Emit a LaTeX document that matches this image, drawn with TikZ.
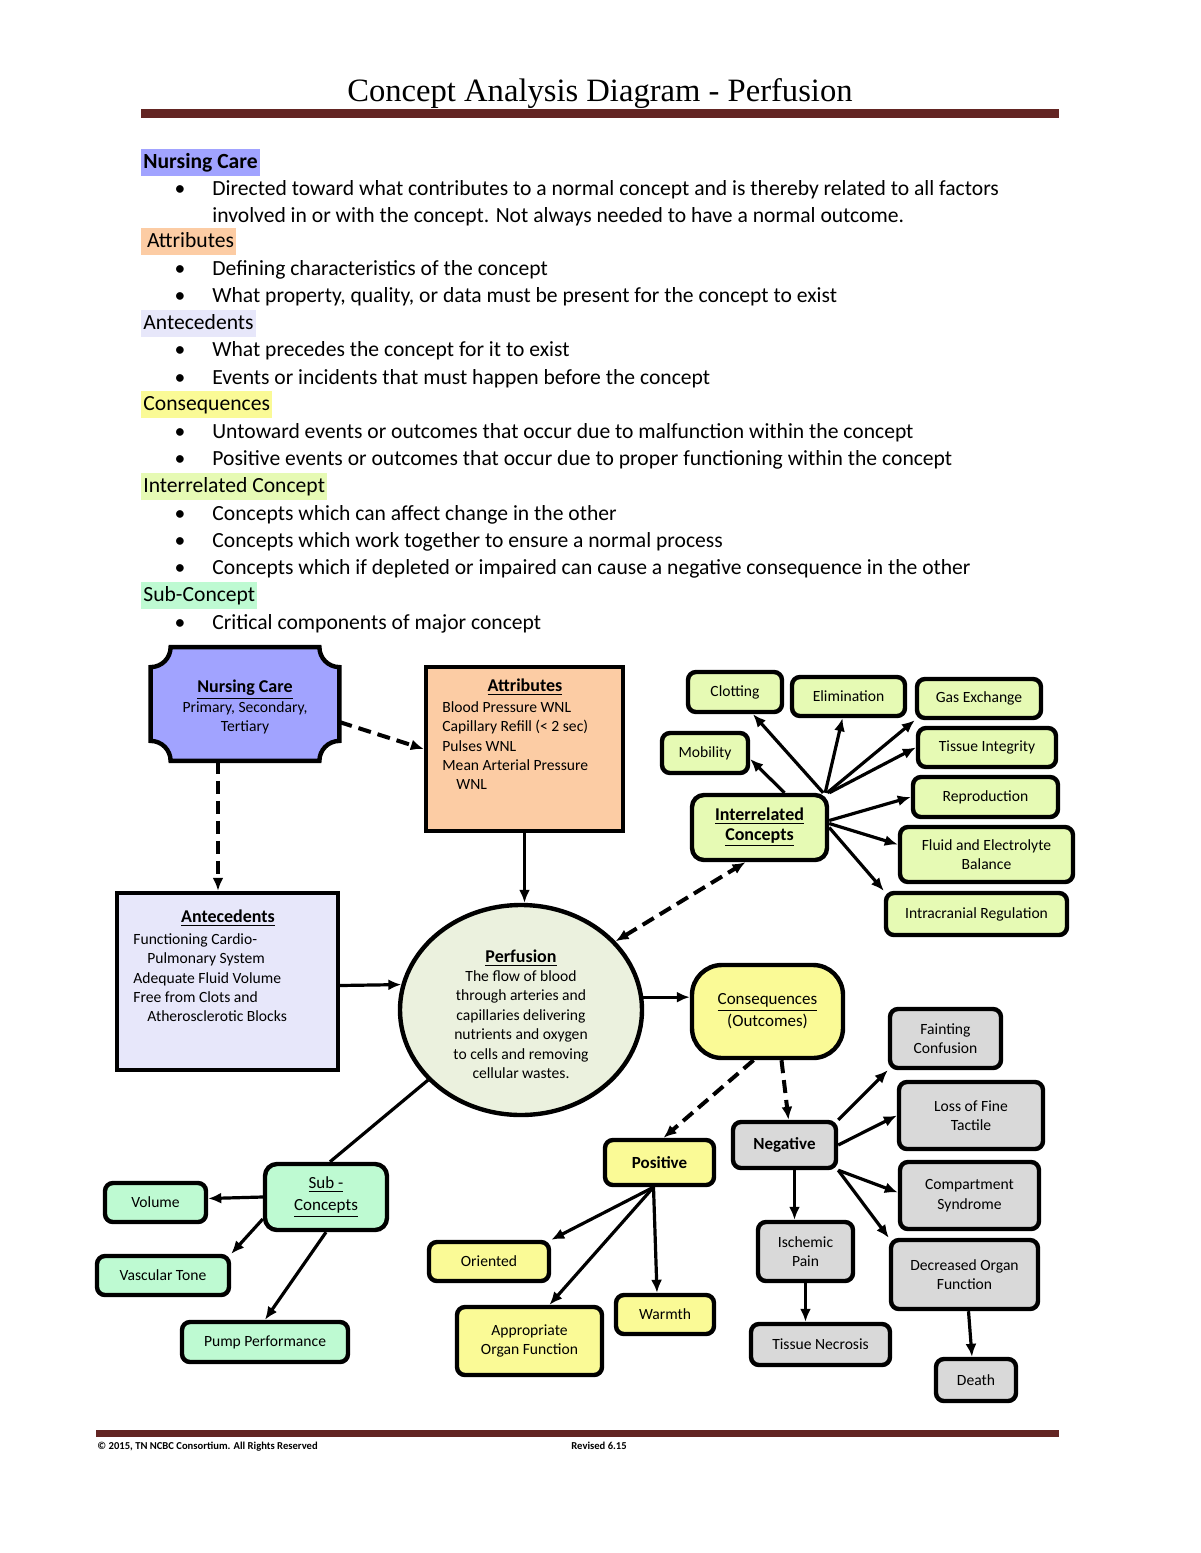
\documentclass[tikz,border=0pt]{standalone}
\usepackage{fontspec}
\setmainfont{Carlito}
\newfontfamily\headfont{Liberation Serif}
\usetikzlibrary{shapes.geometric, arrows.meta, calc}

\definecolor{barred}{RGB}{99,37,35}
\definecolor{nursefill}{RGB}{161,163,255}
\definecolor{attrfill}{RGB}{252,204,164}
\definecolor{antefill}{RGB}{231,231,250}
\definecolor{perffill}{RGB}{235,241,222}
\definecolor{interfill}{RGB}{230,250,180}
\definecolor{consfill}{RGB}{250,250,150}
\definecolor{subfill}{RGB}{190,250,210}
\definecolor{negfill}{RGB}{217,217,217}

\newcommand\bodyfont{\fontsize{10.8}{13}\selectfont}
\newcommand\boxfont{\fontsize{7.8}{9.7}\selectfont}
\newcommand\boxtitle{\fontsize{9}{9.7}\selectfont\bfseries}
\newcommand\midfont{\fontsize{8.5}{11}\selectfont}
\newcommand\footfont{\fontsize{5.3}{6}\selectfont\bfseries}

\tikzset{
  headmark/.style={
    anchor=base west, font=\bodyfont, inner xsep=1pt, inner ysep=1.5pt,
    text height=7.8pt, text depth=2.6pt
  },
  itemline/.style={anchor=base west, font=\bodyfont, inner sep=0pt},
  mapbox/.style={
    draw, line width=2.2pt, align=center, font=\boxfont, inner sep=1pt
  },
  leafbox/.style={mapbox, rounded corners=4pt},
  boxtext/.style={align=center, font=\boxfont, inner sep=0pt},
  listtext/.style={align=left, font=\boxfont, inner sep=0pt},
  maparrow/.style={-{Latex[length=6.5pt,width=5.5pt]}, line width=1.6pt},
  mapdash/.style={maparrow, line width=2pt, dash pattern=on 6.5pt off 3.5pt},
  maplink/.style={line width=1.6pt},
}

\begin{document}
\begin{tikzpicture}[x=0.5pt, y=-0.5pt]
  \path[fill=white] (0,0) rectangle (1200,1553);
  \useasboundingbox (0,0) rectangle (1200,1553);

  % ── Page title ─────────────────────────────────────────────────
  \node[font=\headfont\fontsize{16.3}{18}\selectfont, anchor=base]
    (title) at (600,101) {Concept Analysis Diagram - Perfusion};
  \fill[barred] (141,109) rectangle (1059,118);

  % ── Key to the colours ─────────────────────────────────────────
  \node[headmark, fill=nursefill, font=\bodyfont\bfseries]
    (key-nurse) at (141,168) {Nursing Care};
  \node[headmark, fill=attrfill] (key-attr) at (141,247) {\,Attributes};
  \node[headmark, fill=antefill] (key-ante) at (141,329) {Antecedents};
  \node[headmark, fill=consfill] (key-cons) at (141,410) {Consequences};
  \node[headmark, fill=interfill] (key-inter) at (141,492) {Interrelated Concept};
  \node[headmark, fill=subfill] (key-sub) at (141,601) {Sub-Concept};

  \foreach \y/\dot/\txt in {
    195/\textbullet/{Directed toward what contributes to a normal concept and is thereby related to all factors},
    222/{}/{involved in or with the concept. Not always needed to have a normal outcome.},
    275/\textbullet/{Defining characteristics of the concept},
    302/\textbullet/{What property, quality, or data must be present for the concept to exist},
    356/\textbullet/{What precedes the concept for it to exist},
    384/\textbullet/{Events or incidents that must happen before the concept},
    438/\textbullet/{Untoward events or outcomes that occur due to malfunction within the concept},
    465/\textbullet/{Positive events or outcomes that occur due to proper functioning within the concept},
    520/\textbullet/{Concepts which can affect change in the other},
    547/\textbullet/{Concepts which work together to ensure a normal process},
    574/\textbullet/{Concepts which if depleted or impaired can cause a negative consequence in the other},
    629/\textbullet/{Critical components of major concept}}
    \node[itemline] (item-\y) at (212,\y) {\llap{\dot\hspace{13.5pt}}\txt};

  % ── Nursing care (plaque) ──────────────────────────────────────
  \node[minimum width=94pt, minimum height=56.5pt, inner sep=0pt]
    (nurse) at (245,704) {};
  \draw[line width=2.2pt, fill=nursefill]
    ([yshift=-10pt]nurse.north west) arc[start angle=-90, end angle=0, radius=10pt]
    -- ([xshift=-10pt]nurse.north east) arc[start angle=180, end angle=270, radius=10pt]
    -- ([yshift=10pt]nurse.south east) arc[start angle=90, end angle=180, radius=10pt]
    -- ([xshift=10pt]nurse.south west) arc[start angle=0, end angle=90, radius=10pt]
    -- cycle;
  \node[boxtext] (nurse-text) at (245,707)
    {{\boxtitle\underline{Nursing Care}}\\Primary, Secondary,\\Tertiary};

  % ── Attributes ─────────────────────────────────────────────────
  \node[mapbox, fill=attrfill, minimum width=98.5pt, minimum height=82pt]
    (attr) at (524.5,749) {};
  \node[boxtext, font=\boxtitle] (attr-title) at (525,687) {\underline{Attributes}};
  \node[listtext, anchor=north west] (attr-list) at (442,701)
    {Blood Pressure WNL\\Capillary Refill (< 2 sec)\\Pulses WNL\\
     Mean Arterial Pressure\\\hspace*{7pt}WNL};

  % ── Antecedents ────────────────────────────────────────────────
  \node[mapbox, fill=antefill, minimum width=110.5pt, minimum height=88.5pt]
    (ante) at (227.5,981.5) {};
  \node[boxtext, font=\boxtitle] (ante-title) at (228,918) {\underline{Antecedents}};
  \node[listtext, anchor=north west] (ante-list) at (133,933)
    {Functioning Cardio-\\\hspace*{7pt}Pulmonary System\\Adequate Fluid Volume\\
     Free from Clots and\\\hspace*{7pt}Atherosclerotic Blocks};

  % ── Perfusion ──────────────────────────────────────────────────
  \node[ellipse, draw, line width=2.2pt, fill=perffill, inner sep=0pt,
        minimum width=121pt, minimum height=105pt]
    (perf) at (521,1010) {};
  \node[boxtext] (perf-text) at (521,1014)
    {{\boxtitle\underline{Perfusion}}\\The flow of blood\\through arteries and\\
     capillaries delivering\\nutrients and oxygen\\to cells and removing\\
     cellular wastes.};

  \draw[mapdash] ([xshift=-13.5pt]nurse.south) -- ([xshift=-13.5pt]nurse.south |- ante.north);
  \draw[mapdash] ([yshift=-9pt]nurse.east) -- (attr.west);
  \draw[maparrow] (attr.south) -- (attr.south |- perf.north);
  \draw[maparrow] ([yshift=-2pt]ante.east) -- (perf.168);

  % ── Interrelated concepts ──────────────────────────────────────
  \node[leafbox, rounded corners=6pt, fill=interfill, font=\boxtitle,
        minimum width=67.5pt, minimum height=32.5pt]
    (inter) at (759.5,827.5) {\underline{Interrelated}\\\underline{Concepts}};
  \node[leafbox, fill=interfill, minimum width=47pt, minimum height=20pt]
    (clot) at (735,692) {Clotting};
  \node[leafbox, fill=interfill, minimum width=56.5pt, minimum height=19.5pt]
    (elim) at (848.5,696.5) {Elimination};
  \node[leafbox, fill=interfill, minimum width=62pt, minimum height=19.5pt]
    (gas) at (979,698.5) {Gas Exchange};
  \node[leafbox, fill=interfill, minimum width=43pt, minimum height=20pt]
    (mob) at (705,753) {Mobility};
  \node[leafbox, fill=interfill, minimum width=69pt, minimum height=19.5pt]
    (tiss) at (987,747.5) {Tissue Integrity};
  \node[leafbox, fill=interfill, minimum width=72.5pt, minimum height=20pt]
    (repro) at (985.5,797) {Reproduction};
  \node[leafbox, fill=interfill, minimum width=86.5pt, minimum height=27.5pt]
    (fluid) at (986.5,854.5) {Fluid and Electrolyte\\Balance};
  \node[leafbox, fill=interfill, minimum width=90.5pt, minimum height=21pt]
    (intra) at (976.5,914) {Intracranial Regulation};

  \draw[maparrow] ([xshift=-3pt]inter.north east) -- ([xshift=9pt]clot.south);
  \draw[maparrow] ([xshift=-2pt]inter.north east) -- ([xshift=-3pt]elim.south);
  \draw[maparrow] ([xshift=-1pt]inter.north east) -- (gas.south west);
  \draw[maparrow] (inter.north east) -- (tiss.west);
  \draw[maparrow] ([xshift=12.5pt]inter.north) -- ([yshift=-3pt]mob.east);
  \draw[maparrow] ([yshift=3.5pt]inter.east) -- (repro.west);
  \draw[maparrow] ([yshift=2pt]inter.east) -- ([yshift=5pt]fluid.west);
  \draw[maparrow] (inter.east) -- (intra.north west);
  \draw[mapdash, {Latex[length=6.5pt,width=5.5pt]}-{Latex[length=6.5pt,width=5.5pt]}]
    (perf.36) -- ([xshift=-7pt]inter.south);

  % ── Consequences ───────────────────────────────────────────────
  \node[mapbox, rounded corners=15pt, fill=consfill, font=\midfont,
        minimum width=75.5pt, minimum height=46.5pt]
    (cons) at (767.5,1011.5) {\underline{Consequences}\\(Outcomes)};
  \node[leafbox, fill=consfill, font=\midfont\bfseries,
        minimum width=54.5pt, minimum height=22.5pt]
    (pos) at (659.5,1162.5) {Positive};
  \node[leafbox, fill=negfill, font=\midfont\bfseries,
        minimum width=51.5pt, minimum height=23pt]
    (neg) at (784.5,1145) {Negative};

  \draw[maparrow] (perf.6) -- (perf.6 -| cons.west);
  \draw[mapdash] ([xshift=-7pt]cons.south) -- ([xshift=2pt]pos.north);
  \draw[mapdash] ([xshift=7pt]cons.south) -- ([xshift=2pt]neg.north);

  % positive outcomes
  \node[leafbox, fill=consfill, minimum width=60pt, minimum height=19.5pt]
    (orient) at (489,1261.5) {Oriented};
  \node[leafbox, fill=consfill, minimum width=72.5pt, minimum height=34pt]
    (organ) at (529.5,1341) {Appropriate\\Organ Function};
  \node[leafbox, fill=consfill, minimum width=49pt, minimum height=19.5pt]
    (warm) at (665,1314.5) {Warmth};

  \draw[maparrow] ([xshift=-3pt]pos.south) -- (orient.north east);
  \draw[maparrow] ([xshift=-3pt]pos.south) -- ([xshift=10pt]organ.north);
  \draw[maparrow] ([xshift=-3pt]pos.south) -- ([xshift=-4pt]warm.north);

  % negative outcomes
  \node[leafbox, fill=negfill, minimum width=55.5pt, minimum height=29.5pt]
    (faint) at (945.5,1038.5) {Fainting\\Confusion};
  \node[leafbox, fill=negfill, minimum width=72pt, minimum height=33.5pt]
    (tactile) at (971,1115.5) {Loss of Fine\\Tactile};
  \node[leafbox, fill=negfill, minimum width=69.5pt, minimum height=33.5pt]
    (compart) at (969.5,1195.5) {Compartment\\Syndrome};
  \node[leafbox, fill=negfill, minimum width=73.5pt, minimum height=34.5pt]
    (organloss) at (964.5,1274.5) {Decreased Organ\\Function};
  \node[leafbox, fill=negfill, minimum width=47.5pt, minimum height=29.5pt]
    (ischem) at (805.5,1251.5) {Ischemic\\Pain};
  \node[leafbox, fill=negfill, minimum width=69.5pt, minimum height=20.5pt]
    (necro) at (820.5,1344.5) {Tissue Necrosis};
  \node[leafbox, fill=negfill, minimum width=40pt, minimum height=21pt]
    (death) at (976,1380) {Death};

  \draw[maparrow] (neg.north east) -- (faint.south west);
  \draw[maparrow] (neg.east) -- (tactile.west);
  \draw[maparrow] (neg.south east) -- ([yshift=1.5pt]compart.west);
  \draw[maparrow] (neg.south east) -- (organloss.north west);
  \draw[maparrow] ([xshift=5pt]neg.south) -- ([xshift=5pt]neg.south |- ischem.north);
  \draw[maparrow] (ischem.south) -- (ischem.south |- necro.north);
  \draw[maparrow] ([xshift=2pt]organloss.south) -- ([xshift=-2pt]death.north);

  % ── Sub-concepts ───────────────────────────────────────────────
  \node[leafbox, rounded corners=6pt, fill=subfill, font=\midfont,
        minimum width=61pt, minimum height=33pt]
    (sub) at (326,1197) {\underline{Sub -}\\\underline{Concepts}};
  \node[leafbox, fill=subfill, minimum width=50.5pt, minimum height=19.5pt]
    (volume) at (155.5,1202.5) {Volume};
  \node[leafbox, fill=subfill, minimum width=66pt, minimum height=19.5pt]
    (tone) at (163,1275.5) {Vascular Tone};
  \node[leafbox, fill=subfill, minimum width=83pt, minimum height=20pt]
    (pump) at (265,1342) {Pump Performance};

  \draw[maplink] (perf.217) -- ([xshift=2pt]sub.north);
  \draw[maparrow] (sub.west) -- ([yshift=2pt]volume.east);
  \draw[maparrow] ([yshift=-11pt]sub.west) -- (tone.north east);
  \draw[maparrow] (sub.south) -- (pump.north);

  % ── Footer ─────────────────────────────────────────────────────
  \fill[barred] (96,1430) rectangle (1059,1437);
  \node[anchor=base west, font=\footfont, inner sep=0pt] (copyright) at (97,1449)
    {© 2015, TN NCBC Consortium. All Rights Reserved};
  \node[anchor=base west, font=\footfont, inner sep=0pt] (revised) at (571,1449)
    {Revised 6.15};
\end{tikzpicture}
\end{document}
